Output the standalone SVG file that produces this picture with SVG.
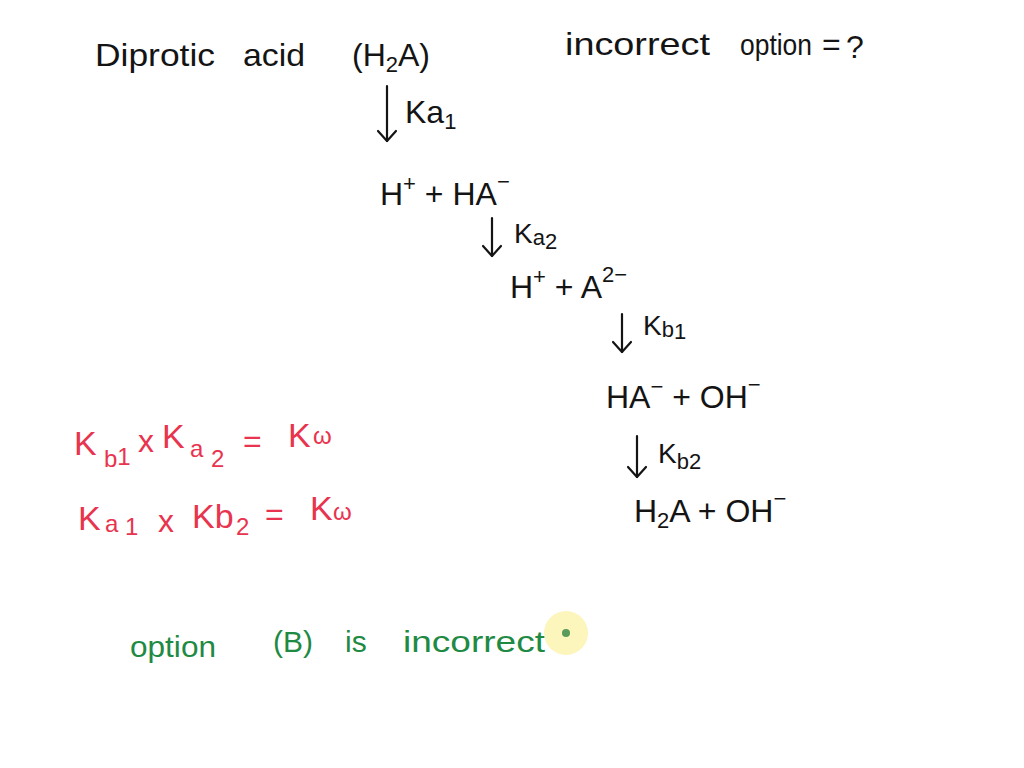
<svg xmlns="http://www.w3.org/2000/svg" width="1024" height="768" viewBox="0 0 1024 768">
<style>
text{font-family:"Liberation Sans","DejaVu Sans",sans-serif;}
.k{fill:#141414;font-size:32px;}
.kl{fill:#141414;font-size:28px;}
.ks{fill:#141414;font-size:22px;}
.r{fill:#e8344e;font-size:34px;}
.ro{fill:#e8344e;font-size:32px;}
.rs{fill:#e8344e;font-size:24px;}
.g{fill:#1f8a43;font-size:30px;}
.arr{stroke:#141414;stroke-width:2.2;fill:none;stroke-linecap:round;stroke-linejoin:round;}
</style>
<defs>
<marker id="ah" viewBox="0 0 20 20" refX="17" refY="10" markerWidth="20" markerHeight="20" markerUnits="userSpaceOnUse" orient="auto">
<path d="M7,1 L17,10 L7,19" fill="none" stroke="#141414" stroke-width="2.2" stroke-linecap="round" stroke-linejoin="round"/>
</marker>
</defs>
<rect width="1024" height="768" fill="#ffffff"/>

<g id="title">
<text class="k" x="95" y="66" textLength="120" lengthAdjust="spacingAndGlyphs">Diprotic</text>
<text class="k" x="243" y="66" textLength="62" lengthAdjust="spacingAndGlyphs">acid</text>
<text class="k" x="352" y="66">(H<tspan class="ks" dy="6">2</tspan><tspan dy="-6">A)</tspan></text>
</g>

<g id="question">
<text class="k" x="565" y="55" textLength="145" lengthAdjust="spacingAndGlyphs">incorrect</text>
<text class="k" x="740" y="55" style="font-size:30px" textLength="72" lengthAdjust="spacingAndGlyphs">option</text>
<text class="k" x="822" y="55">=</text>
<text class="k" x="846" y="58">?</text>
</g>

<g id="connectors">
<line class="arr" x1="387" y1="86" x2="387" y2="141" marker-end="url(#ah)"/>
<line class="arr" x1="492" y1="218" x2="492" y2="256" marker-end="url(#ah)"/>
<line class="arr" x1="622" y1="314" x2="622" y2="352" marker-end="url(#ah)"/>
<line class="arr" x1="637" y1="436" x2="637" y2="477" marker-end="url(#ah)"/>
</g>

<g id="label-ka1">
<text class="k" x="405" y="123">Ka<tspan class="ks" dy="6">1</tspan></text>
</g>
<g id="species-1">
<text class="k" x="380" y="205">H<tspan class="ks" dy="-14">+</tspan><tspan dy="14"> + HA</tspan><tspan class="ks" dy="-16">−</tspan></text>
</g>
<g id="label-ka2">
<text class="kl" x="514" y="243">K<tspan class="ks" dy="2">a</tspan><tspan class="ks" dy="4">2</tspan></text>
</g>
<g id="species-2">
<text class="k" x="510" y="298">H<tspan class="ks" dy="-14">+</tspan><tspan dy="14"> + A</tspan><tspan class="ks" dy="-16">2−</tspan></text>
</g>
<g id="label-kb1">
<text class="kl" x="643" y="335">K<tspan class="ks" dy="2">b</tspan><tspan class="ks" dy="2">1</tspan></text>
</g>
<g id="species-3">
<text class="k" x="606" y="408">HA<tspan class="ks" dy="-14">−</tspan><tspan dy="14">  + OH</tspan><tspan class="ks" dy="-16">−</tspan></text>
</g>
<g id="label-kb2">
<text class="kl" x="658" y="463">K<tspan class="ks" dy="6">b2</tspan></text>
</g>
<g id="species-4">
<text class="k" x="634" y="522">H<tspan class="ks" dy="6">2</tspan><tspan dy="-6">A + OH</tspan><tspan class="ks" dy="-16">−</tspan></text>
</g>

<g id="eq1">
<text class="r" x="74" y="455">K</text>
<text class="rs" x="104" y="467">b<tspan dy="-2">1</tspan></text>
<text class="ro" x="138" y="452">x</text>
<text class="r" x="162" y="448">K</text>
<text class="rs" x="190" y="457">a</text>
<text class="rs" x="211" y="467">2</text>
<text class="ro" x="243" y="452">=</text>
<text class="r" x="288" y="447">K</text>
<text class="rs" x="313" y="444">ω</text>
</g>

<g id="eq2">
<text class="r" x="78" y="530">K</text>
<text class="rs" x="105" y="532">a</text>
<text class="rs" x="125" y="535">1</text>
<text class="ro" x="158" y="532">x</text>
<text class="r" x="192" y="528">Kb</text>
<text class="rs" x="236" y="535">2</text>
<text class="ro" x="265" y="525">=</text>
<text class="r" x="310" y="520">K</text>
<text class="rs" x="333" y="520">ω</text>
</g>

<g id="answer">
<text class="g" x="130" y="657" textLength="86" lengthAdjust="spacingAndGlyphs">option</text>
<text class="g" x="273" y="652">(B)</text>
<text class="g" x="345" y="652">is</text>
<text class="g" x="403" y="652" textLength="142" lengthAdjust="spacingAndGlyphs">incorrect</text>
<circle cx="566" cy="633" r="22" fill="#fbf3b0" opacity="0.85"/>
<circle cx="566" cy="633" r="4" fill="#5a9a5a"/>
</g>
</svg>
